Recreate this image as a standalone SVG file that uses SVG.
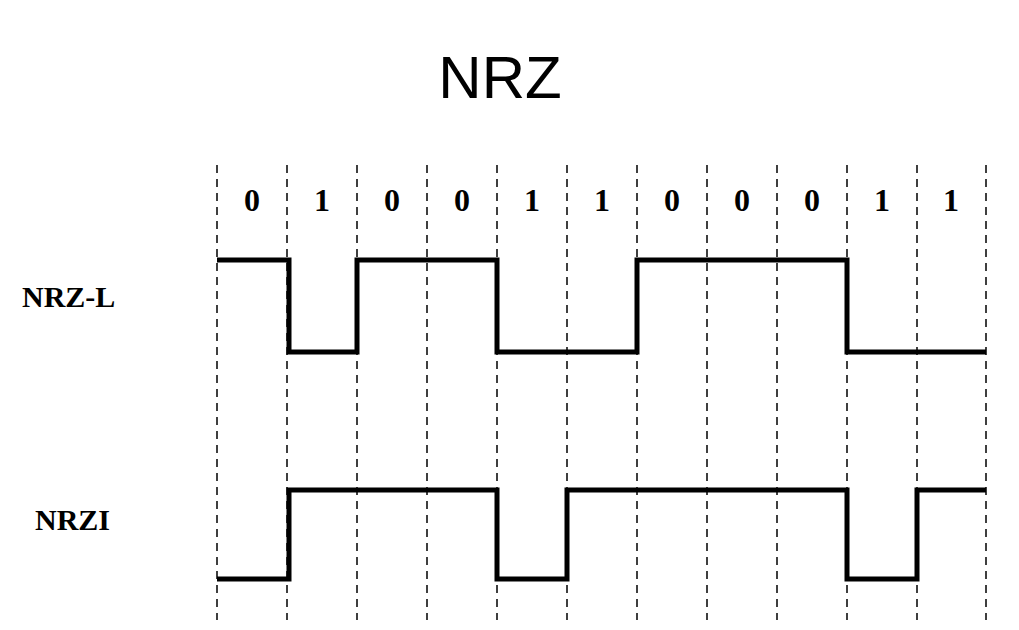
<svg xmlns="http://www.w3.org/2000/svg" width="1019" height="630" viewBox="0 0 1019 630">
<style>
.g{stroke:#000;stroke-width:1.5;stroke-dasharray:8,6;fill:none}
.s{stroke:#000;stroke-width:5;fill:none;stroke-linejoin:miter}
.b{font-family:"Liberation Serif",serif;font-weight:bold;font-size:32px;text-anchor:middle}
.l{font-family:"Liberation Serif",serif;font-weight:bold;font-size:30px}
</style>
<rect width="1019" height="630" fill="#fff"/>
<text x="500" y="98" font-family="Liberation Sans,sans-serif" font-size="60" text-anchor="middle">NRZ</text>
<g id="grid">
<path class="g" d="M217 165V620M287 165V620M357 165V620M427 165V620M497 165V620M567 165V620M637 165V620M707 165V620M777 165V620M847 165V620M917 165V620M986 165V620"/>
</g>
<g id="bits">
<text class="b" x="252" y="211">0</text><text class="b" x="322" y="211">1</text><text class="b" x="392" y="211">0</text><text class="b" x="462" y="211">0</text><text class="b" x="532" y="211">1</text><text class="b" x="602" y="211">1</text><text class="b" x="672" y="211">0</text><text class="b" x="742" y="211">0</text><text class="b" x="812" y="211">0</text><text class="b" x="882" y="211">1</text><text class="b" x="951" y="211">1</text>
</g>
<g id="nrzl">
<text class="l" x="22" y="307">NRZ-L</text>
<path class="s" d="M217 260H289V352H357V260H497V352H637V260H847V352H986"/>
</g>
<g id="nrzi">
<text class="l" x="35" y="530">NRZI</text>
<path class="s" d="M217 579H289V490H497V579H567V490H847V579H917V490H986"/>
</g>
</svg>
